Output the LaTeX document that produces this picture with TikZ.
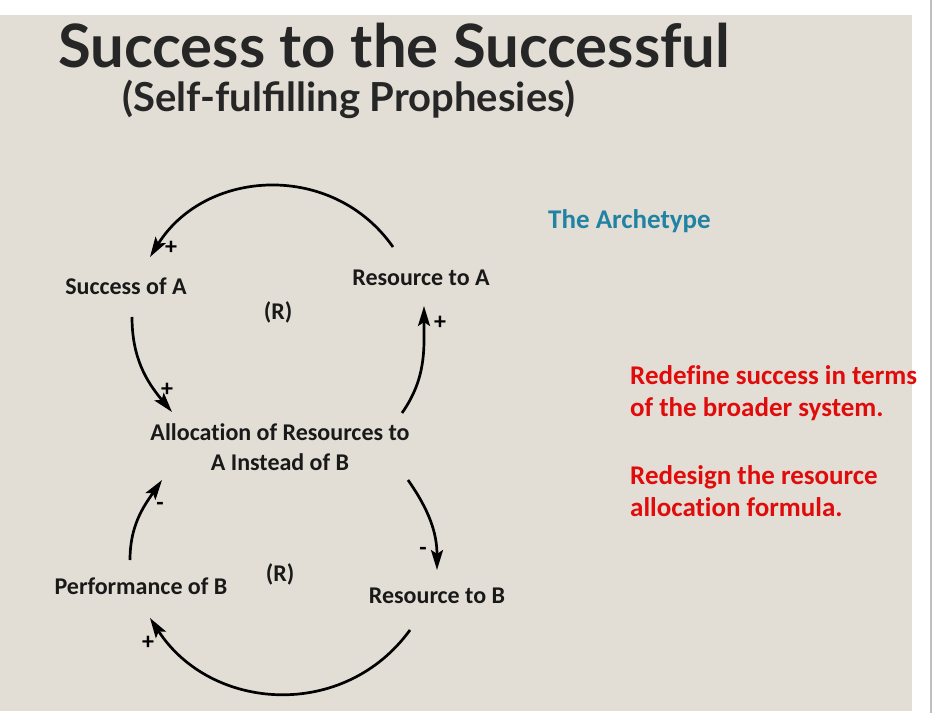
\documentclass[tikz,border=0pt]{standalone}
\usepackage{fontspec}
\setmainfont{Carlito}[Ligatures=NoCommon]
\newfontfamily\titlefont{Lato}
\usetikzlibrary{arrows.meta}
\definecolor{slidebg}{HTML}{E3DED5}
\definecolor{titlegray}{HTML}{262626}
\definecolor{archblue}{HTML}{2183A3}
\definecolor{hintred}{HTML}{E00B0B}
\begin{document}
\begin{tikzpicture}[x=1pt,y=1pt,
  lbl/.style={font=\fontsize{24}{30}\selectfont\bfseries, text=black!90, inner sep=0pt},
  sgn/.style={font=\fontsize{24}{24}\selectfont\bfseries, inner sep=0pt},
  link/.style={line width=2.7pt, -{Stealth[length=20pt,width=12pt,inset=4pt]}}]
\useasboundingbox (0,0) rectangle (936,713);
% slide
\fill [white] (0,0) rectangle (936,713);
\fill [slidebg] (0,2) rectangle (912,698);
\fill [black!25] (930,0) rectangle (932,713);
% headings
\node [anchor=base west, inner sep=0pt, text=titlegray, font=\titlefont\bfseries\fontsize{59.8}{60}\selectfont] (ttl) at (58,645) {Success to the Successful};
\node [anchor=base west, inner sep=0pt, text=titlegray, font=\titlefont\bfseries\fontsize{40}{40}\selectfont] (sub) at (122,601) {(Self-fulfilling Prophesies)};
\node [anchor=west, inner sep=0pt, text=archblue, font=\fontsize{27}{27}\selectfont\bfseries] (arch) at (548,492) {The Archetype};
\node [anchor=west, align=left, inner sep=0pt, text=hintred, font=\fontsize{27}{32}\selectfont\bfseries] (fix1) at (630,320) {Redefine success in terms\\of the broader system.};
\node [anchor=west, align=left, inner sep=0pt, text=hintred, font=\fontsize{27}{32}\selectfont\bfseries] (fix2) at (630,222) {Redesign the resource\\allocation formula.};
% variables
\node [lbl] (sa) at (126,427) {Success of A};
\node [lbl] (ra) at (421,435) {Resource to A};
\node [lbl, align=center] (alloc) at (280,266) {Allocation of Resources to\\A Instead of B};
\node [lbl] (pb) at (141,127) {Performance of B};
\node [lbl] (rb) at (437,117) {Resource to B};
\node [lbl] (loopa) at (278,401) {(R)};
\node [lbl] (loopb) at (280,139) {(R)};
% arc ends
\coordinate (ta1) at (393,466); \coordinate (ta2) at (150,456);
\coordinate (la1) at (132,396); \coordinate (la2) at (172,301);
\coordinate (ra1) at (402,300); \coordinate (ra2) at (424,407);
\coordinate (rb1) at (408,233); \coordinate (rb2) at (437,143);
\coordinate (bb1) at (410,83);  \coordinate (bb2) at (150,95);
\coordinate (lb1) at (130,153); \coordinate (lb2) at (162,233);
% links
\draw [link] (ta1) to[out=125, in=58, looseness=1.1] (ta2);
\draw [link] (la1) to[out=270, in=130] (la2);
\draw [link] (ra1) to[out=55, in=270] (ra2);
\draw [link] (rb1) to[out=-55, in=90] (rb2);
\draw [link] (bb1) to[out=234, in=303, looseness=1.1] (bb2);
\draw [link] (lb1) to[out=90, in=235] (lb2);
% polarities
\node [sgn] (s1) at (171,465) {+};
\node [sgn] (s2) at (167,323) {+};
\node [sgn] (s3) at (440,390) {+};
\node [sgn] (s4) at (423,162) {-};
\node [sgn] (s5) at (148,70) {+};
\node [sgn] (s6) at (160,207) {-};
\end{tikzpicture}
\end{document}
